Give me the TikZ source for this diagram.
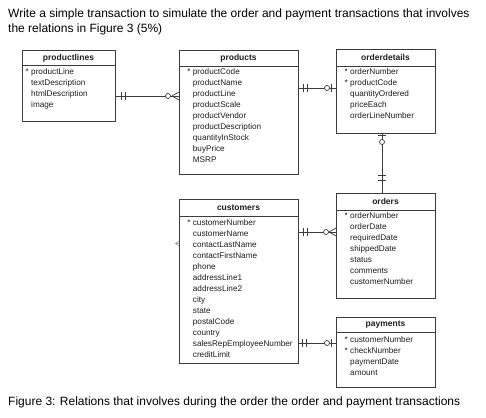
\documentclass[tikz,border=0pt]{standalone}
\usepackage{fontspec}
\setmainfont{Liberation Sans}
\definecolor{erline}{RGB}{60,60,60}
\definecolor{ertext}{RGB}{30,30,30}

\begin{document}
\begin{tikzpicture}[x=1pt,y=-1pt,
  tbl/.style={draw=erline,line width=0.8pt,inner sep=0pt,outer sep=0pt},
  hdr/.style={font=\bfseries\fontsize{8.5}{10}\selectfont,text=ertext,inner sep=0pt},
  attr/.style={font=\fontsize{8.2}{11}\selectfont,text=ertext,align=left,anchor=north west,inner sep=0pt},
  rel/.style={draw=erline,line width=0.7pt},
  prose/.style={font=\fontsize{12}{15}\selectfont,anchor=base west,inner sep=0pt}]
  \useasboundingbox[fill=white] (0,0) rectangle (486,417);
  \node[prose] (title1) at (8,17.3) {Write a simple transaction to simulate the order and payment transactions that involves};
  \node[prose] (title2) at (8,32.3) {the relations in Figure 3 (5\%)};
  % tables
  \node[tbl,minimum width=93pt,minimum height=71pt] (productlines) at (68.5,85.5) {};
  \node[tbl,minimum width=119pt,minimum height=124pt] (products) at (238.5,112) {};
  \node[tbl,minimum width=99pt,minimum height=83.5pt] (orderdetails) at (385.5,91.25) {};
  \node[tbl,minimum width=99pt,minimum height=105pt] (orders) at (385.5,245.5) {};
  \node[tbl,minimum width=119pt,minimum height=164pt] (customers) at (238.5,281) {};
  \node[tbl,minimum width=99pt,minimum height=70pt] (payments) at (385.5,352) {};
  \foreach \t/\y in {productlines/65,products/66,orderdetails/66,orders/210,customers/216,payments/332}
    {\draw[erline,line width=0.8pt] (\t.west |- 0,\y) -- (\t.east |- 0,\y);}
  \node[hdr] (productlinesh) at (68.5,58.3) {productlines};
  \node[hdr] (productsh) at (238.5,58) {products};
  \node[hdr] (orderdetailsh) at (385.5,57.7) {orderdetails};
  \node[hdr] (ordersh) at (385.5,201.7) {orders};
  \node[hdr] (customersh) at (238.5,208) {customers};
  \node[hdr] (paymentsh) at (385.5,325) {payments};
  \node[attr] (productlinesa) at (31,68) {\llap{* }productLine\\textDescription\\htmlDescription\\image};
  \node[attr] (productsa) at (192.7,68) {\llap{* }productCode\\productName\\productLine\\productScale\\productVendor\\productDescription\\quantityInStock\\buyPrice\\MSRP};
  \node[attr] (orderdetailsa) at (350,68) {\llap{* }orderNumber\\\llap{* }productCode\\quantityOrdered\\priceEach\\orderLineNumber};
  \node[attr] (ordersa) at (350,212) {\llap{* }orderNumber\\orderDate\\requiredDate\\shippedDate\\status\\comments\\customerNumber};
  \node[attr] (customersa) at (192.7,219.4) {\llap{* }customerNumber\\customerName\\contactLastName\\contactFirstName\\phone\\addressLine1\\addressLine2\\city\\state\\postalCode\\country\\salesRepEmployeeNumber\\creditLimit};
  \node[attr] (paymentsa) at (350,336.4) {\llap{* }customerNumber\\\llap{* }checkNumber\\paymentDate\\amount};
  % relations
  \draw[rel] (productlines.east |- 0,96) -- (products.west |- 0,96);
  \draw[rel] (products.east |- 0,88) -- (orderdetails.west |- 0,88);
  \draw[rel] (customers.east |- 0,232) -- (orders.west |- 0,232);
  \draw[rel] (customers.east |- 0,343) -- (payments.west |- 0,343);
  \draw[rel] (382,0 |- orderdetails.south) -- (382,0 |- orders.north);
  % end marks
  \foreach \x/\y in {121/96,125/96,303/88,307/88,331/88,303/232,307/232,302/343,306/343,331/343}
    {\draw[rel] (\x,\y-4) -- (\x,\y+4);}
  \foreach \y in {135,175,180} {\draw[rel] (378,\y) -- (386,\y);}
  \foreach \x/\y in {179/96,336/232} {\draw[rel] (\x-7,\y) -- (\x,\y-4) (\x-7,\y) -- (\x,\y+4);}
  \foreach \x/\y in {168/96,327/88,326/232,327/343,382/142} {\draw[rel,fill=white] (\x,\y) circle (2.5pt);}
  \draw[erline!60,line width=0.5pt] (179,241) -- (175.5,243.5) -- (179,246) (175.5,243.5) -- (179,243.5);
  \node[prose] (caption) at (8,405) {Figure 3: Relations that involves during the order the order and payment transactions};
\end{tikzpicture}
\end{document}
